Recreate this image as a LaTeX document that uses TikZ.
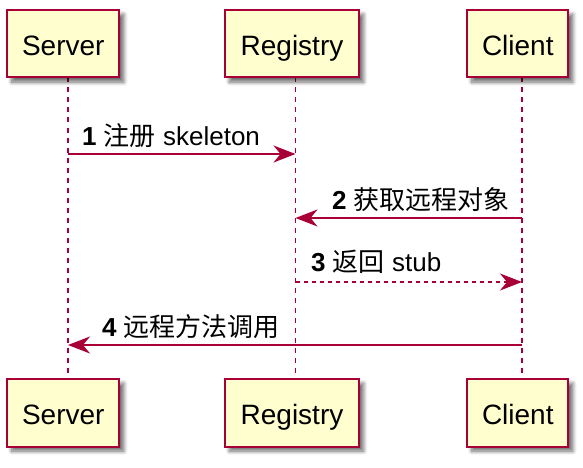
\documentclass[tikz,border=0pt]{standalone}
\usepackage{fontspec}
\setmainfont{Liberation Sans}
\newfontfamily\cjk{Noto Sans CJK SC}
\usetikzlibrary{arrows.meta,shadows.blur}
\definecolor{pbord}{HTML}{A80036}
\definecolor{pfill}{HTML}{FEFECE}
\tikzset{
  part/.style={draw=pbord, fill=pfill, line width=2pt, minimum height=67.5pt, inner sep=0pt,
    text height=24pt, text depth=0pt,
    font=\fontsize{28}{32}\selectfont,
    blur shadow={shadow xshift=4.5pt, shadow yshift=-4.5pt, shadow blur steps=8, shadow blur radius=4pt, shadow opacity=60}},
  life/.style={draw=pbord, line width=1.6pt, dash pattern=on 5pt off 5pt},
  msg/.style={draw=pbord, line width=1.6pt, -{Stealth[length=22pt,width=17pt,inset=7pt]}},
  msgd/.style={msg, dash pattern=on 4pt off 4pt},
  lbl/.style={anchor=base west, inner sep=0pt, font=\fontsize{26}{30}\selectfont}
}
\begin{document}
\begin{tikzpicture}[x=1pt,y=-1pt]
\useasboundingbox (0,0) rectangle (583,468);
% lifelines
\coordinate (sTop) at (68,77.5);   \coordinate (sBot) at (68,379);
\coordinate (rTop) at (295.5,77.5); \coordinate (rBot) at (295.5,379);
\coordinate (cTop) at (522,77.5);  \coordinate (cBot) at (522,379);
\draw[life] (sTop) -- (sBot);
\draw[life] (rTop) -- (rBot);
\draw[life] (cTop) -- (cBot);
% participants
\node[part, minimum width=112pt] (sT) at (63.3,43.75) {Server};
\node[part, minimum width=134pt] (rT) at (292,43.75) {Registry};
\node[part, minimum width=101pt] (cT) at (517.8,43.75) {Client};
\node[part, minimum width=112pt] (sB) at (63.3,412.75) {Server};
\node[part, minimum width=134pt] (rB) at (292,412.75) {Registry};
\node[part, minimum width=101pt] (cB) at (517.8,412.75) {Client};
% message end points
\coordinate (s1) at (68,154);   \coordinate (r1) at (295.5,154);
\coordinate (c2) at (522,218);  \coordinate (r2) at (295.5,218);
\coordinate (r3) at (295.5,282);\coordinate (c3) at (522,282);
\coordinate (c4) at (522,345);  \coordinate (s4) at (68,345);
\draw[msg] (s1) -- (r1);
\draw[msg] (c2) -- (r2);
\draw[msgd] (r3) -- (c3);
\draw[msg] (c4) -- (s4);
% labels
\node[lbl] (l1) at (82,146) {\textbf{1} {\cjk 注册} skeleton};
\node[lbl] (l2) at (332,209) {\textbf{2} {\cjk 获取远程对象}};
\node[lbl] (l3) at (311,271) {\textbf{3} {\cjk 返回} stub};
\node[lbl] (l4) at (102,336) {\textbf{4} {\cjk 远程方法调用}};
\end{tikzpicture}
\end{document}
